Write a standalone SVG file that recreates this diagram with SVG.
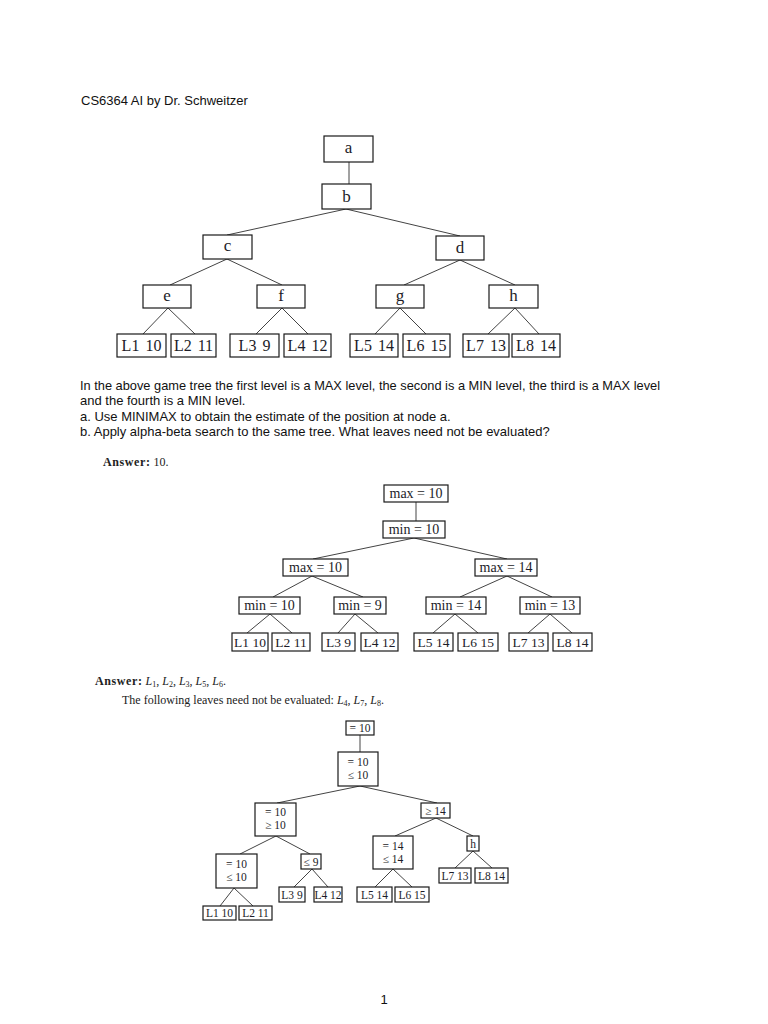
<svg xmlns="http://www.w3.org/2000/svg" width="768" height="1024" viewBox="0 0 768 1024">
<style>
.bg{fill:#fff}
.box{fill:#fff;stroke:#1a1a1a;stroke-width:1.2}
.edges line{stroke:#444;stroke-width:1}
.serif{font-family:"Liberation Serif","DejaVu Serif",serif;fill:#1c1c28;text-anchor:middle;dominant-baseline:central}
.t1{font-size:17px}
.t1l{font-size:16px;word-spacing:2px}
.t2{font-size:14px}
.t2l{font-size:13.5px}
.t3{font-size:11.5px}
.sans{font-family:"Liberation Sans",Arial,sans-serif;font-size:13px;fill:#111}
.ans{font-family:"Liberation Serif","DejaVu Serif",serif;font-size:12px;fill:#222}
.bold{font-weight:bold;letter-spacing:0.6px}
</style>
<rect class="bg" x="0" y="0" width="768" height="1024"/>
<text class="sans" x="81" y="105">CS6364 AI by Dr. Schweitzer</text>

<!-- Tree 1 -->
<g class="edges" id="edges1">
<line x1="349" y1="162" x2="349" y2="184"/>
<line x1="346" y1="209" x2="227" y2="235"/>
<line x1="346" y1="209" x2="460" y2="236"/>
<line x1="227" y1="259" x2="170" y2="285"/>
<line x1="227" y1="259" x2="282" y2="285"/>
<line x1="460" y1="260" x2="404" y2="285"/>
<line x1="460" y1="260" x2="515" y2="285"/>
<line x1="168" y1="308" x2="143" y2="334"/>
<line x1="168" y1="308" x2="195" y2="334"/>
<line x1="282" y1="308" x2="256" y2="334"/>
<line x1="282" y1="308" x2="308" y2="334"/>
<line x1="400" y1="308" x2="375" y2="334"/>
<line x1="400" y1="308" x2="426" y2="334"/>
<line x1="515" y1="308" x2="488" y2="334"/>
<line x1="515" y1="308" x2="539" y2="334"/>
</g>
<g id="t1-a"><rect class="box" x="324" y="136" width="49" height="26"/><text class="serif t1" x="348.5" y="147.5">a</text></g>
<g id="t1-b"><rect class="box" x="322" y="184" width="49" height="25"/><text class="serif t1" x="346.5" y="196">b</text></g>
<g id="t1-c"><rect class="box" x="203" y="235" width="49" height="24"/><text class="serif t1" x="227.5" y="245.5">c</text></g>
<g id="t1-d"><rect class="box" x="436" y="236" width="48" height="24"/><text class="serif t1" x="460" y="247">d</text></g>
<g id="t1-e"><rect class="box" x="143" y="285" width="48" height="23"/><text class="serif t1" x="167" y="295">e</text></g>
<g id="t1-f"><rect class="box" x="257" y="285" width="48" height="23"/><text class="serif t1" x="281" y="295.5">f</text></g>
<g id="t1-g"><rect class="box" x="376" y="285" width="48" height="23"/><text class="serif t1" x="400" y="295">g</text></g>
<g id="t1-h"><rect class="box" x="489" y="285" width="49" height="23"/><text class="serif t1" x="513.5" y="295.5">h</text></g>
<g id="t1-L1"><rect class="box" x="117" y="334" width="49" height="23"/><text class="serif t1l" x="141.5" y="345.5">L1 10</text></g>
<g id="t1-L2"><rect class="box" x="171" y="334" width="45" height="23"/><text class="serif t1l" x="193.5" y="345.5">L2 11</text></g>
<g id="t1-L3"><rect class="box" x="230" y="334" width="49" height="23"/><text class="serif t1l" x="254.5" y="345.5">L3 9</text></g>
<g id="t1-L4"><rect class="box" x="284" y="334" width="47" height="23"/><text class="serif t1l" x="307.5" y="345.5">L4 12</text></g>
<g id="t1-L5"><rect class="box" x="350" y="334" width="48" height="23"/><text class="serif t1l" x="374" y="345.5">L5 14</text></g>
<g id="t1-L6"><rect class="box" x="403" y="334" width="47" height="23"/><text class="serif t1l" x="426.5" y="345.5">L6 15</text></g>
<g id="t1-L7"><rect class="box" x="463" y="334" width="46" height="23"/><text class="serif t1l" x="486" y="345.5">L7 13</text></g>
<g id="t1-L8"><rect class="box" x="512" y="334" width="48" height="23"/><text class="serif t1l" x="536" y="345.5">L8 14</text></g>

<text class="sans" x="80" y="390" textLength="580" lengthAdjust="spacingAndGlyphs">In the above game tree the first level is a MAX level, the second is a MIN level, the third is a MAX level</text>
<text class="sans" x="80" y="405">and the fourth is a MIN level.</text>
<text class="sans" x="80" y="421">a. Use MINIMAX to obtain the estimate of the position at node a.</text>
<text class="sans" x="80" y="436">b. Apply alpha-beta search to the same tree. What leaves need not be evaluated?</text>

<text class="ans" x="103" y="466" font-size="13"><tspan class="bold">Answer:</tspan> 10.</text>

<!-- Tree 2 -->
<g class="edges" id="edges2">
<line x1="416" y1="502" x2="416" y2="521"/>
<line x1="414" y1="538" x2="313" y2="559"/>
<line x1="414" y1="538" x2="507" y2="559"/>
<line x1="312" y1="576" x2="273" y2="597"/>
<line x1="312" y1="576" x2="363" y2="597"/>
<line x1="507" y1="576" x2="460" y2="597"/>
<line x1="507" y1="576" x2="552" y2="597"/>
<line x1="270" y1="614" x2="247" y2="633"/>
<line x1="270" y1="614" x2="292" y2="633"/>
<line x1="355" y1="614" x2="338" y2="633"/>
<line x1="355" y1="614" x2="378" y2="633"/>
<line x1="455" y1="614" x2="433" y2="633"/>
<line x1="455" y1="614" x2="478" y2="633"/>
<line x1="550" y1="614" x2="528" y2="633"/>
<line x1="550" y1="614" x2="572" y2="633"/>
</g>
<g id="t2-a"><rect class="box" x="384" y="485" width="64" height="17"/><text class="serif t2" x="416" y="493.5">max = 10</text></g>
<g id="t2-b"><rect class="box" x="383" y="521" width="62" height="17"/><text class="serif t2" x="414" y="529.5">min = 10</text></g>
<g id="t2-c"><rect class="box" x="283" y="559" width="65" height="17"/><text class="serif t2" x="315.5" y="567.5">max = 10</text></g>
<g id="t2-d"><rect class="box" x="475" y="559" width="62" height="17"/><text class="serif t2" x="506" y="567.5">max = 14</text></g>
<g id="t2-e"><rect class="box" x="239" y="597" width="61" height="17"/><text class="serif t2" x="269.5" y="605.5">min = 10</text></g>
<g id="t2-f"><rect class="box" x="334" y="597" width="52" height="17"/><text class="serif t2" x="360" y="605.5">min = 9</text></g>
<g id="t2-g"><rect class="box" x="426" y="597" width="60" height="17"/><text class="serif t2" x="456" y="605.5">min = 14</text></g>
<g id="t2-h"><rect class="box" x="520" y="597" width="60" height="17"/><text class="serif t2" x="550" y="605.5">min = 13</text></g>
<g id="t2-L1"><rect class="box" x="232" y="633" width="36" height="18"/><text class="serif t2l" x="250" y="642">L1 10</text></g>
<g id="t2-L2"><rect class="box" x="272" y="633" width="38" height="18"/><text class="serif t2l" x="291" y="642">L2 11</text></g>
<g id="t2-L3"><rect class="box" x="322" y="633" width="33" height="18"/><text class="serif t2l" x="338.5" y="642">L3 9</text></g>
<g id="t2-L4"><rect class="box" x="361" y="633" width="37" height="18"/><text class="serif t2l" x="379.5" y="642">L4 12</text></g>
<g id="t2-L5"><rect class="box" x="414" y="633" width="39" height="18"/><text class="serif t2l" x="433.5" y="642">L5 14</text></g>
<g id="t2-L6"><rect class="box" x="458" y="633" width="40" height="18"/><text class="serif t2l" x="478" y="642">L6 15</text></g>
<g id="t2-L7"><rect class="box" x="509" y="633" width="39" height="18"/><text class="serif t2l" x="528.5" y="642">L7 13</text></g>
<g id="t2-L8"><rect class="box" x="553" y="633" width="39" height="18"/><text class="serif t2l" x="572.5" y="642">L8 14</text></g>

<text class="ans" x="95" y="685"><tspan class="bold">Answer:</tspan> <tspan font-style="italic">L</tspan><tspan font-size="8" dy="2">1</tspan><tspan dy="-2">, </tspan><tspan font-style="italic">L</tspan><tspan font-size="8" dy="2">2</tspan><tspan dy="-2">, </tspan><tspan font-style="italic">L</tspan><tspan font-size="8" dy="2">3</tspan><tspan dy="-2">, </tspan><tspan font-style="italic">L</tspan><tspan font-size="8" dy="2">5</tspan><tspan dy="-2">, </tspan><tspan font-style="italic">L</tspan><tspan font-size="8" dy="2">6</tspan><tspan dy="-2">.</tspan></text>
<text class="ans" x="122" y="704">The following leaves need not be evaluated: <tspan font-style="italic">L</tspan><tspan font-size="8" dy="2">4</tspan><tspan dy="-2">, </tspan><tspan font-style="italic">L</tspan><tspan font-size="8" dy="2">7</tspan><tspan dy="-2">, </tspan><tspan font-style="italic">L</tspan><tspan font-size="8" dy="2">8</tspan><tspan dy="-2">.</tspan></text>

<!-- Tree 3 -->
<g class="edges" id="edges3">
<line x1="360" y1="735" x2="360" y2="752"/>
<line x1="360" y1="786" x2="277" y2="803"/>
<line x1="360" y1="786" x2="437" y2="803"/>
<line x1="276" y1="836" x2="240" y2="854"/>
<line x1="276" y1="836" x2="310" y2="854"/>
<line x1="436" y1="818" x2="395" y2="836"/>
<line x1="436" y1="818" x2="473" y2="836"/>
<line x1="234" y1="888" x2="220" y2="906"/>
<line x1="234" y1="888" x2="253" y2="906"/>
<line x1="312" y1="869" x2="294" y2="887"/>
<line x1="312" y1="869" x2="328" y2="887"/>
<line x1="393" y1="869" x2="375" y2="887"/>
<line x1="393" y1="869" x2="412" y2="887"/>
<line x1="473" y1="851" x2="455" y2="868"/>
<line x1="473" y1="851" x2="492" y2="868"/>
</g>
<g id="t3-a"><rect class="box" x="346" y="721" width="28" height="14"/><text class="serif t3" x="360" y="728">= 10</text></g>
<g id="t3-b"><rect class="box" x="338" y="752" width="40" height="34"/><text class="serif t3" x="358" y="762">= 10</text><text class="serif t3" x="358" y="775">≤ 10</text></g>
<g id="t3-c"><rect class="box" x="255" y="803" width="41" height="33"/><text class="serif t3" x="275.5" y="812">= 10</text><text class="serif t3" x="275.5" y="825">≥ 10</text></g>
<g id="t3-d"><rect class="box" x="421" y="803" width="29" height="15"/><text class="serif t3" x="435.5" y="810.5">≥ 14</text></g>
<g id="t3-e"><rect class="box" x="216" y="854" width="41" height="34"/><text class="serif t3" x="236.5" y="863.5">= 10</text><text class="serif t3" x="236.5" y="876.5">≤ 10</text></g>
<g id="t3-f"><rect class="box" x="301" y="854" width="20" height="15"/><text class="serif t3" x="311" y="861.5">≤ 9</text></g>
<g id="t3-g"><rect class="box" x="373" y="836" width="40" height="33"/><text class="serif t3" x="393" y="845.5">= 14</text><text class="serif t3" x="393" y="858.5">≤ 14</text></g>
<g id="t3-h"><rect class="box" x="467" y="836" width="12" height="15"/><text class="serif t3" x="473" y="843.5">h</text></g>
<g id="t3-L1"><rect class="box" x="203" y="906" width="33" height="14"/><text class="serif t3" x="219.5" y="913">L1 10</text></g>
<g id="t3-L2"><rect class="box" x="239" y="906" width="33" height="14"/><text class="serif t3" x="255.5" y="913">L2 11</text></g>
<g id="t3-L3"><rect class="box" x="279" y="887" width="26" height="15"/><text class="serif t3" x="292" y="894.5">L3 9</text></g>
<g id="t3-L4"><rect class="box" x="314" y="887" width="28" height="15"/><text class="serif t3" x="328" y="894.5">L4 12</text></g>
<g id="t3-L5"><rect class="box" x="357" y="887" width="35" height="15"/><text class="serif t3" x="374.5" y="894.5">L5 14</text></g>
<g id="t3-L6"><rect class="box" x="395" y="887" width="34" height="15"/><text class="serif t3" x="412" y="894.5">L6 15</text></g>
<g id="t3-L7"><rect class="box" x="439" y="868" width="32" height="15"/><text class="serif t3" x="455" y="875.5">L7 13</text></g>
<g id="t3-L8"><rect class="box" x="475" y="868" width="33" height="15"/><text class="serif t3" x="491.5" y="875.5">L8 14</text></g>

<text class="sans" x="384" y="1004" text-anchor="middle">1</text>
</svg>
